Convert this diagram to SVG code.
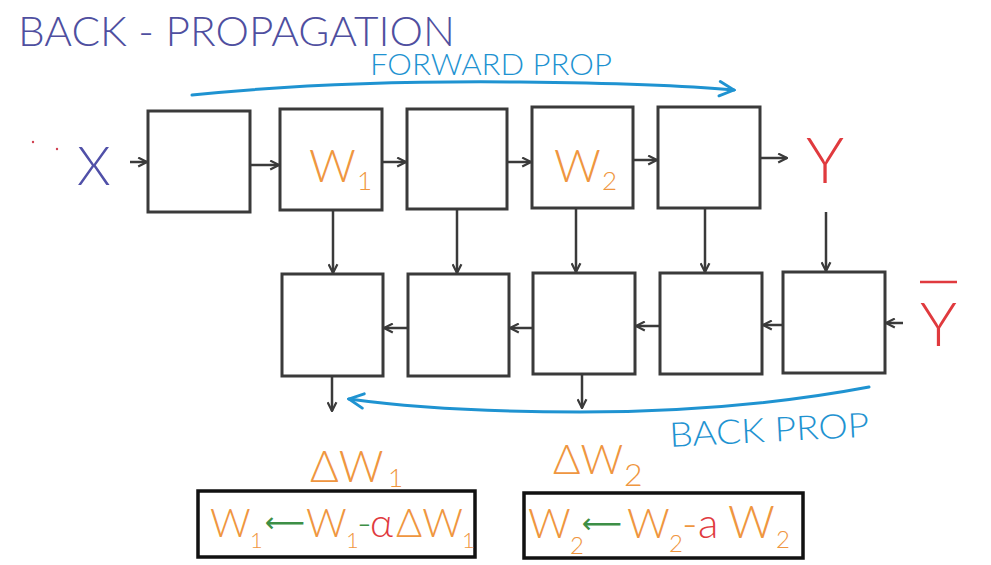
<svg xmlns="http://www.w3.org/2000/svg" width="991" height="565" viewBox="0 0 991 565">
<style>
.box{fill:#fff;stroke:#3a3a3a;stroke-width:3}
.conn{fill:none;stroke:#3a3a3a;stroke-width:2.5}
.blue{fill:none;stroke:#1f93d1;stroke-width:3;stroke-linecap:round}
.t{font-family:"Lato","Liberation Sans","DejaVu Sans",sans-serif;font-weight:300}
.arr{font-family:"DejaVu Sans",sans-serif;font-weight:normal;fill:#3d8f46}
.or{fill:#ef9640}
.rd{fill:#e03a3e}
.gr{fill:#3d8f46}
.fbox{fill:none;stroke:#111;stroke-width:3.5}
</style>
<defs>
<marker id="ah" viewBox="0 0 10 10" refX="9" refY="5" markerWidth="11" markerHeight="11" markerUnits="userSpaceOnUse" orient="auto">
<path d="M1,1 L9,5 L1,9" fill="none" stroke="#3a3a3a" stroke-width="2"/>
</marker>
<marker id="bh" viewBox="0 0 10 10" refX="9" refY="5" markerWidth="18" markerHeight="18" markerUnits="userSpaceOnUse" orient="auto">
<path d="M1,1 L9,5 L1,9" fill="none" stroke="#1f93d1" stroke-width="1.6" stroke-linecap="round"/>
</marker>
</defs>
<rect width="991" height="565" fill="#fff"/>

<g id="title">
<text class="t" x="18" y="46" font-size="42" fill="#4f4fa0" textLength="437" lengthAdjust="spacingAndGlyphs">BACK - PROPAGATION</text>
</g>

<g id="prop-labels">
<text class="t" x="370" y="75" font-size="30" fill="#1f93d1" textLength="242" lengthAdjust="spacingAndGlyphs">FORWARD PROP</text>
<text class="t" x="670" y="447" font-size="34" fill="#1f93d1" textLength="200" lengthAdjust="spacingAndGlyphs" transform="rotate(-3 670 447)">BACK PROP</text>
</g>

<g id="marks">
<circle cx="33" cy="142" r="1.2" fill="#d04050"/>
<circle cx="57" cy="149" r="1.2" fill="#d04050"/>
<line x1="631" y1="312" x2="632" y2="317" stroke="#d04050" stroke-width="1"/>
</g>

<g id="X"><text class="t" x="77" y="185" font-size="54" fill="#5050a8">X</text></g>
<g id="Y"><text class="t rd" x="806" y="183" font-size="64">Y</text></g>
<g id="Ybar">
<line x1="920" y1="282" x2="957" y2="282" stroke="#e03a3e" stroke-width="2.5"/>
<text class="t rd" x="920" y="346" font-size="62">Y</text>
</g>

<g id="f1"><rect class="box" x="148" y="111" width="102" height="101"/></g>
<g id="f2"><rect class="box" x="280" y="109" width="102" height="101"/>
<text class="t or" font-size="46"><tspan x="309" y="182">W</tspan><tspan x="357" y="190" font-size="26">1</tspan></text></g>
<g id="f3"><rect class="box" x="407" y="109" width="100" height="100"/></g>
<g id="f4"><rect class="box" x="532" y="107" width="101" height="101"/>
<text class="t or" font-size="46"><tspan x="554" y="182">W</tspan><tspan x="602" y="190" font-size="26">2</tspan></text></g>
<g id="f5"><rect class="box" x="658" y="107" width="102" height="101"/></g>

<g id="b1"><rect class="box" x="282" y="274" width="101" height="102"/></g>
<g id="b2"><rect class="box" x="408" y="274" width="101" height="102"/></g>
<g id="b3"><rect class="box" x="533" y="273" width="102" height="101"/></g>
<g id="b4"><rect class="box" x="660" y="273" width="102" height="101"/></g>
<g id="b5"><rect class="box" x="783" y="272" width="102" height="101"/></g>

<g id="connectors">
<line class="conn" x1="130" y1="162" x2="147" y2="162" marker-end="url(#ah)"/>
<line class="conn" x1="250" y1="165" x2="279" y2="165" marker-end="url(#ah)"/>
<line class="conn" x1="382" y1="162" x2="406" y2="162" marker-end="url(#ah)"/>
<line class="conn" x1="507" y1="162" x2="531" y2="162" marker-end="url(#ah)"/>
<line class="conn" x1="633" y1="160" x2="657" y2="160" marker-end="url(#ah)"/>
<line class="conn" x1="760" y1="158" x2="787" y2="158" marker-end="url(#ah)"/>

<line class="conn" x1="333" y1="210" x2="333" y2="273" marker-end="url(#ah)"/>
<line class="conn" x1="457" y1="210" x2="457" y2="273" marker-end="url(#ah)"/>
<line class="conn" x1="576" y1="208" x2="576" y2="272" marker-end="url(#ah)"/>
<line class="conn" x1="705" y1="208" x2="705" y2="272" marker-end="url(#ah)"/>
<line class="conn" x1="826" y1="212" x2="826" y2="271" marker-end="url(#ah)"/>

<line class="conn" x1="903" y1="323" x2="886" y2="323" marker-end="url(#ah)"/>
<line class="conn" x1="783" y1="325" x2="763" y2="325" marker-end="url(#ah)"/>
<line class="conn" x1="660" y1="326" x2="636" y2="326" marker-end="url(#ah)"/>
<line class="conn" x1="533" y1="328" x2="510" y2="328" marker-end="url(#ah)"/>
<line class="conn" x1="408" y1="328" x2="384" y2="328" marker-end="url(#ah)"/>

<line class="conn" x1="332" y1="376" x2="332" y2="411" marker-end="url(#ah)"/>
<line class="conn" x1="582" y1="374" x2="582" y2="408" marker-end="url(#ah)"/>

<path class="blue" d="M192,95 C300,84 420,81 520,82 C620,83 690,86 734,90" marker-end="url(#bh)"/>
<path class="blue" d="M869,387 C800,400 700,412 580,412 C480,412 400,406 349,399" marker-end="url(#bh)"/>
</g>

<g id="delta-w1"><text class="t or" font-size="44"><tspan x="310" y="482">ΔW</tspan><tspan x="388" y="487" font-size="26">1</tspan></text></g>
<g id="delta-w2"><text class="t or" font-size="42"><tspan x="553" y="474">ΔW</tspan><tspan x="624" y="486" font-size="32">2</tspan></text></g>

<g id="update-w1">
<rect class="fbox" x="198" y="491" width="277" height="66"/>
<text class="t or" font-size="40"><tspan x="210" y="537">W</tspan><tspan x="250" y="548" font-size="22">1</tspan><tspan x="265" y="532" class="arr" font-size="28">⟵</tspan><tspan x="306" y="537">W</tspan><tspan x="346" y="548" font-size="22">1</tspan><tspan x="357" y="537" class="gr">-</tspan><tspan x="370" y="537" class="rd">α</tspan><tspan x="396" y="537">ΔW</tspan><tspan x="462" y="548" font-size="22">1</tspan></text>
</g>

<g id="update-w2">
<rect class="fbox" x="524" y="493" width="279" height="65"/>
<text class="t or" font-size="42"><tspan x="528" y="538">W</tspan><tspan x="570" y="554" font-size="24">2</tspan><tspan x="582" y="533" class="arr" font-size="28">⟵</tspan><tspan x="627" y="538">W</tspan><tspan x="669" y="552" font-size="24">2</tspan><tspan x="682" y="538">-</tspan><tspan x="698" y="538" class="rd">a</tspan><tspan x="728" y="538" font-size="46">W</tspan><tspan x="776" y="548" font-size="24">2</tspan></text>
</g>
</svg>
